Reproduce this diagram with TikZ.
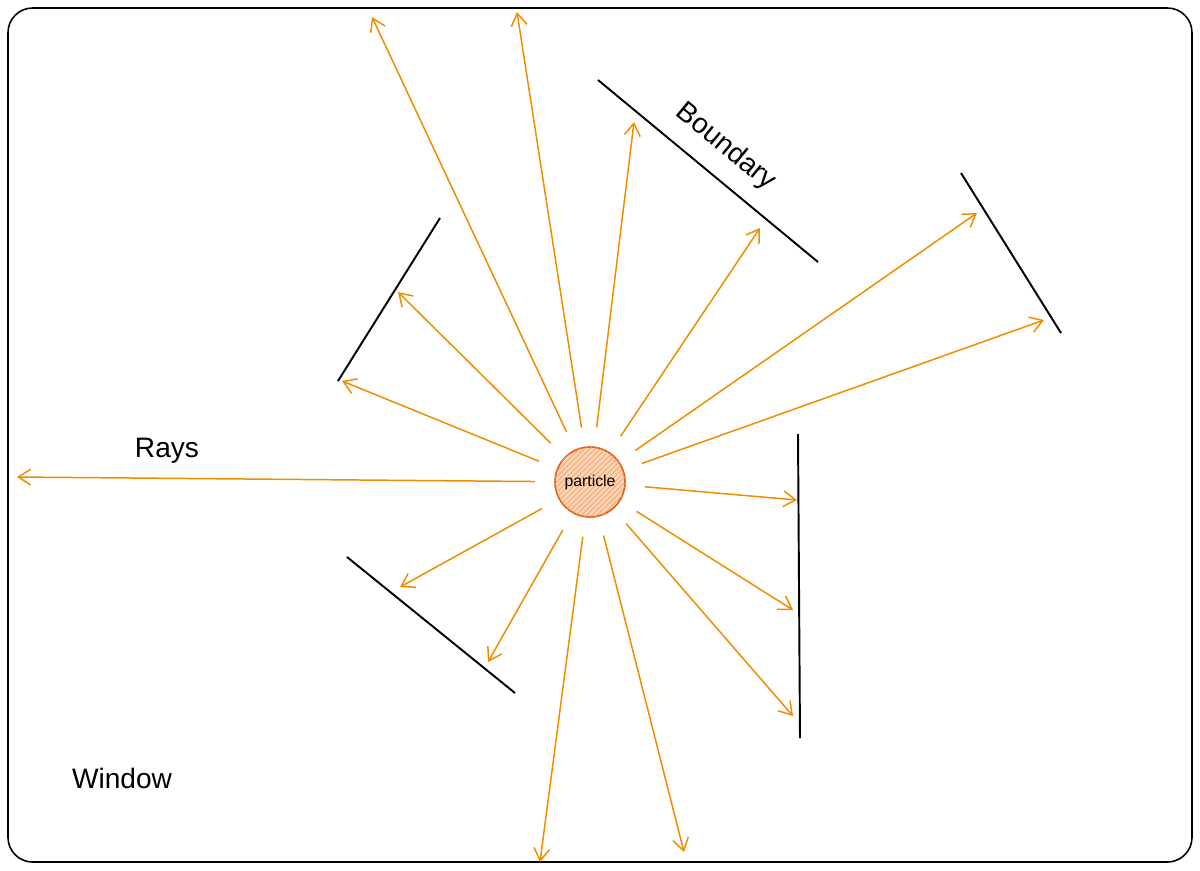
\documentclass[tikz,border=0pt]{standalone}
\usepackage{fontspec}
\setmainfont{Liberation Sans}
\usetikzlibrary{arrows.meta, patterns}
\definecolor{rayorange}{RGB}{240,140,0}
\definecolor{particlered}{RGB}{232,89,12}
\definecolor{particlefill}{RGB}{255,214,180}

\begin{document}
\begin{tikzpicture}[
    x=0.02cm, y=-0.02cm,
    ray/.style={-{Straight Barb[length=7pt, width=9pt]}, rayorange, line width=0.85pt, shorten <=11pt},
    wall/.style={black, line width=1.1pt},
    label/.style={font=\fontsize{16}{18}\selectfont}
]
    \useasboundingbox (0,0) rectangle (1200,870);

    % Window
    \draw [line width=0.9pt, rounded corners=14pt] (8,8) rectangle (1192,862);
    \node (window) [label] at (122,778) {Window};

    % Particle
    \node (particle) [circle, draw=particlered, line width=0.9pt, fill=particlefill,
        postaction={pattern=north east lines, pattern color=particlered!60},
        minimum size=70*0.02cm, inner sep=0pt, font=\fontsize{9}{10}\selectfont] at (590,482) {particle};

    % Rays
    \foreach \ex/\ey in {17/477, 342/381, 398/292, 372/17, 517/12, 634/122, 760/228,
                         977/213, 1044/320, 797/500, 793/610, 793/716, 684/852,
                         540/862, 488/662, 400/587}
        \draw [ray] (particle) -- (\ex,\ey);
    \node (rays) [label] at (167,451) {Rays};

    % Boundaries
    \draw [wall] (338,381) -- (440,218);
    \draw [wall] (598,80) -- (818,262);
    \draw [wall] (961,173) -- (1061,333);
    \draw [wall] (798,434) -- (800,738);
    \draw [wall] (347,557) -- (515,693);
    \node (boundary) [label, rotate=-39.5] at (726,147) {Boundary};
\end{tikzpicture}
\end{document}
